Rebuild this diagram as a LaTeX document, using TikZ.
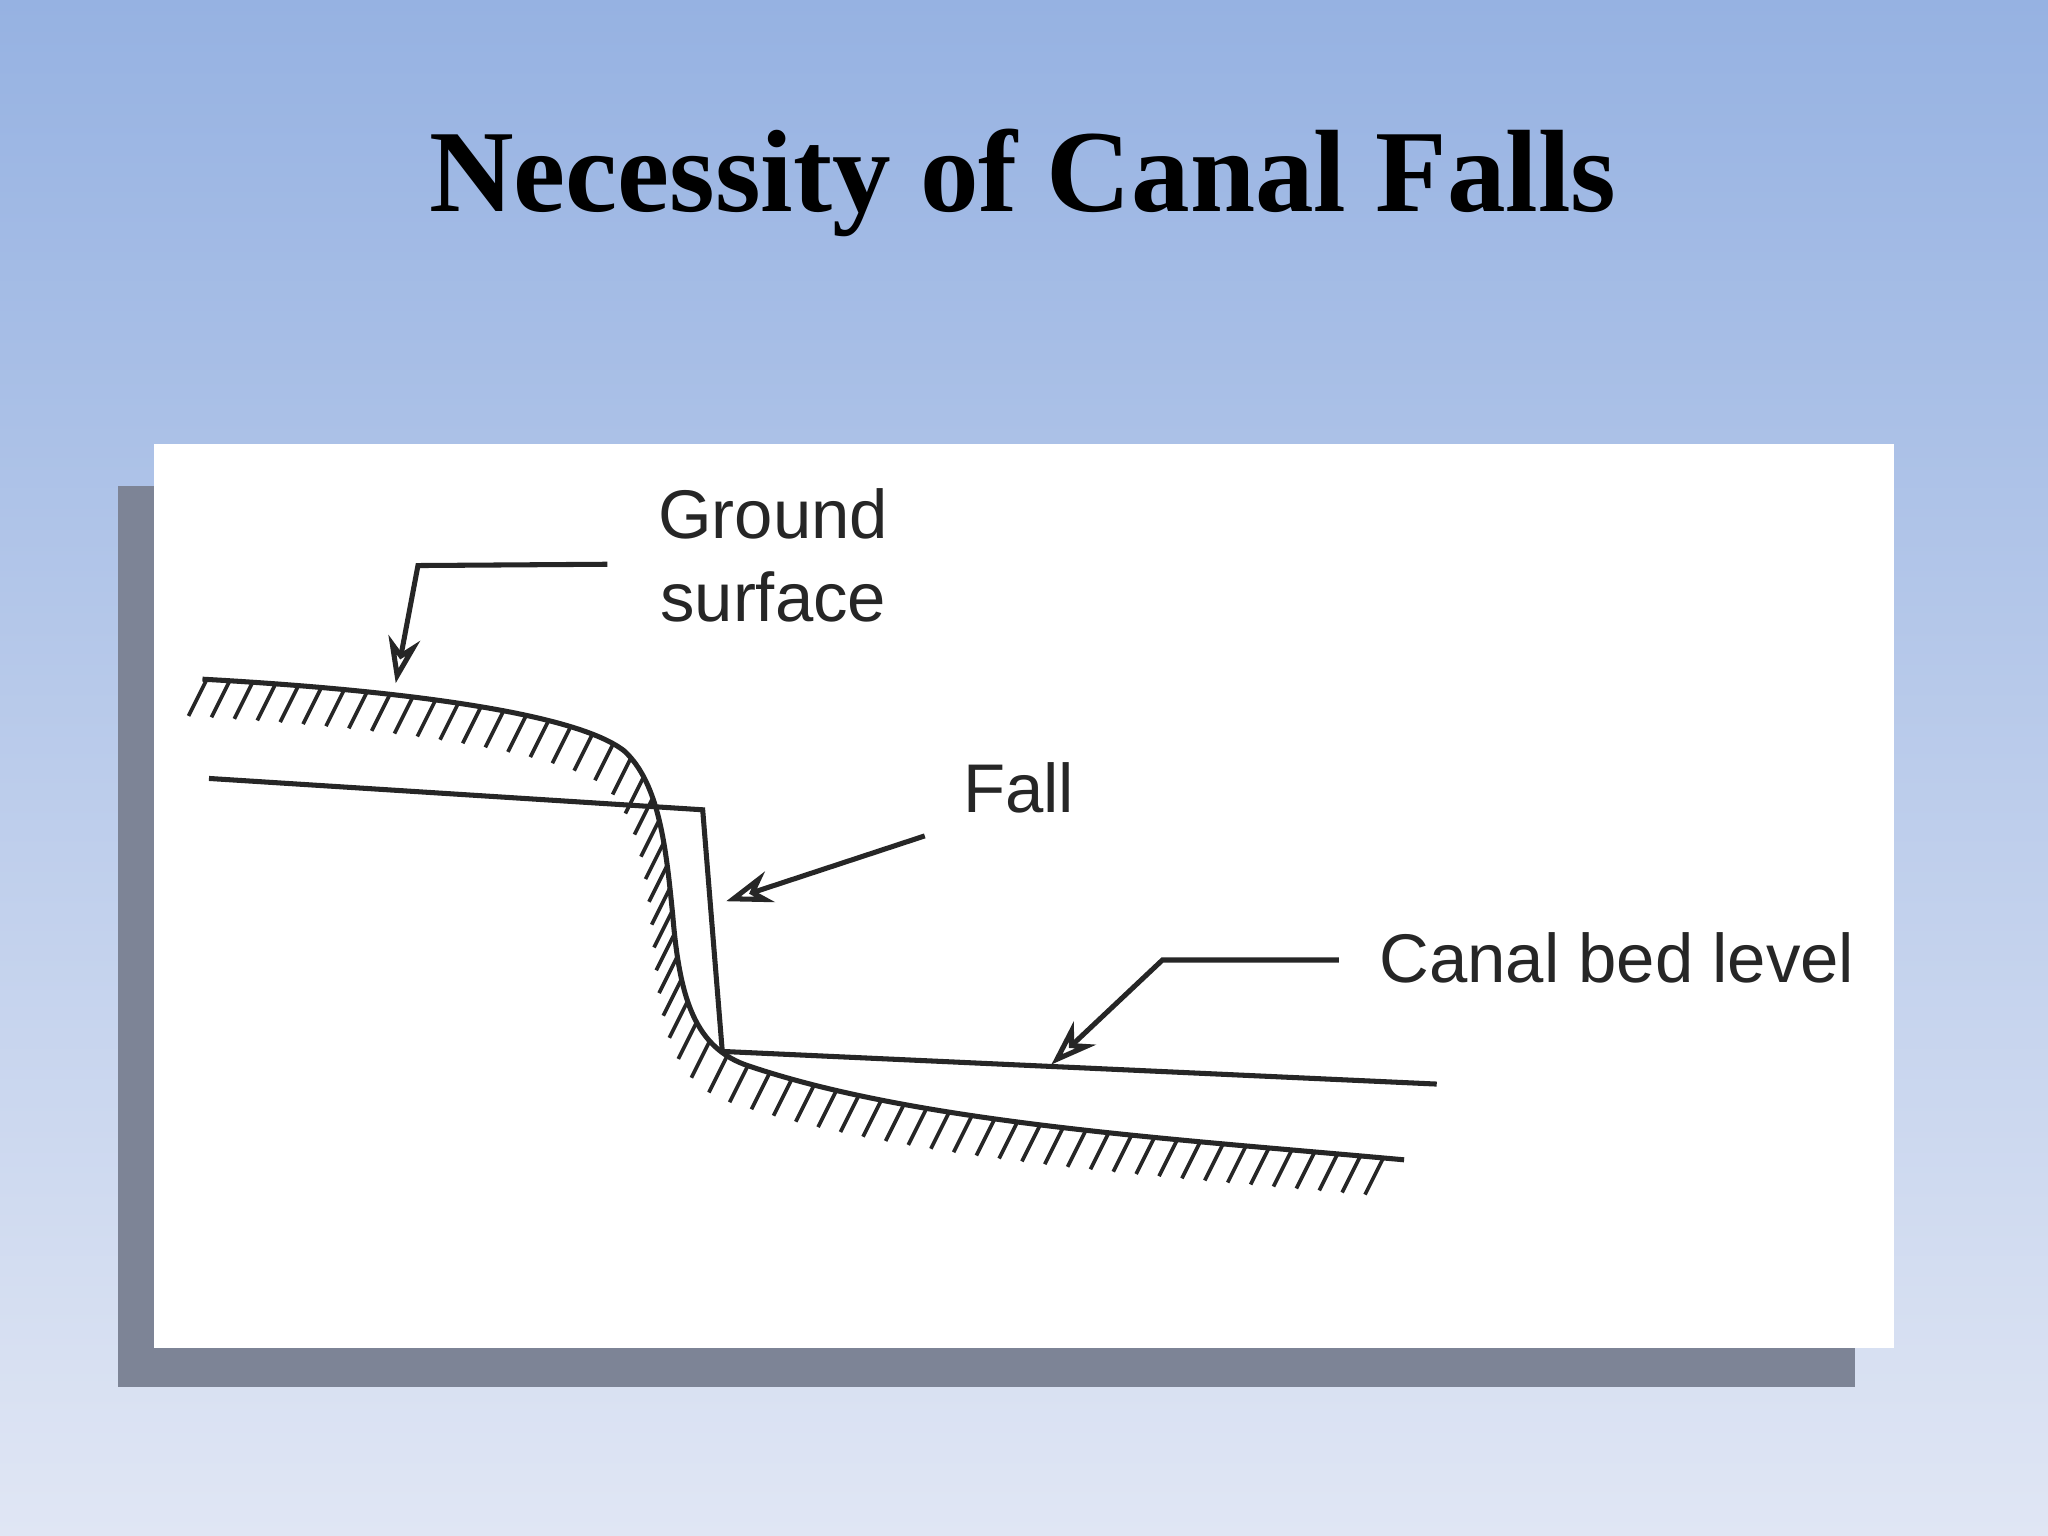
\documentclass[tikz,border=0pt]{standalone}
\usepackage{fontspec}
\setmainfont{Liberation Serif}
\newfontfamily\labfont{Liberation Sans}
\usetikzlibrary{decorations.markings,arrows.meta}
\definecolor{shadowc}{RGB}{125,132,150}
\begin{document}
\begin{tikzpicture}[x=0.01cm,y=-0.01cm,
  lab/.style={font=\labfont\fontsize{15}{18}\selectfont,text=black!85,align=center},
  ln/.style={line width=1.1pt,black!85},
  arr/.style={ln,-{Stealth[length=10pt,width=7pt,open]}},
  hatch/.style={postaction={decorate,decoration={markings,mark=between positions 0.003 and 1 step 5pt with {\pgftransformresetnontranslations\draw[line width=0.8pt,black!85] (0,0)--(-14,28);}}}}]
\useasboundingbox (0,0) rectangle (1568,1176);
\shade[top color={rgb,255:red,150;green,178;blue,226},bottom color={rgb,255:red,224;green,230;blue,244}] (0,0) rectangle (1568,1176);
\fill[shadowc] (90,372) rectangle (1420,1062);
\fill[white] (118,340) rectangle (1450,1032);
\node[font=\fontsize{25.5}{30}\selectfont\bfseries] (title) at (783,140) {Necessity of Canal Falls};
% ground
\draw[ln,hatch] (155,520) .. controls (300,528) and (440,545) .. (478,575)
  .. controls (505,600) and (510,650) .. (515,700)
  .. controls (520,760) and (530,800) .. (570,815)
  .. controls (700,860) and (900,872) .. (1075,888);
% bed
\coordinate (b1) at (160,596); \coordinate (b2) at (538,620);
\coordinate (b3) at (553,805); \coordinate (b4) at (1100,830);
\draw[ln] (b1)--(b2)--(b3)--(b4);
\node[lab] (gs) at (592,425) {Ground\\surface};
\node[lab] (fall) at (780,603) {Fall};
\node[lab] (cbl) at (1238,733) {Canal bed level};
\coordinate (g0) at (465,432); \coordinate (g1) at (320,433); \coordinate (g2) at (303,523);
\draw[arr] (g0)--(g1)--(g2);
\coordinate (f0) at (708,640); \coordinate (f1) at (556,690);
\draw[arr] (f0)--(f1);
\coordinate (c0) at (1025,735); \coordinate (c1) at (890,735); \coordinate (c2) at (805,815);
\draw[arr] (c0)--(c1)--(c2);
\end{tikzpicture}
\end{document}
